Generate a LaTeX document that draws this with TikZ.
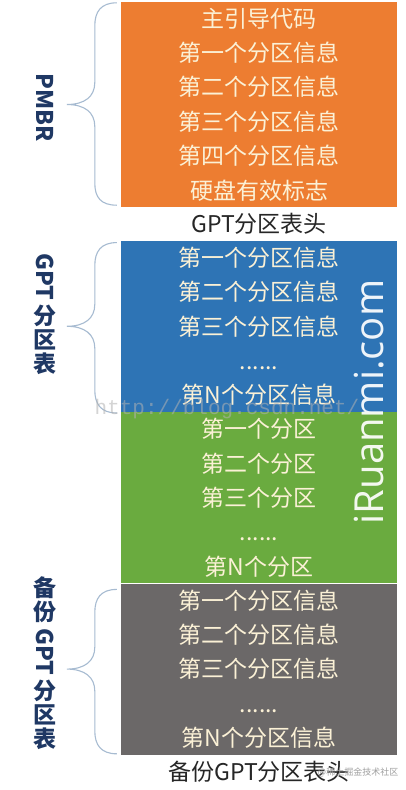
\documentclass[tikz,border=0pt]{standalone}
\usepackage{fontspec}
\setmainfont{Noto Sans CJK SC}
\newfontfamily\markfont{Open Sans}
\newfontfamily\urlfont{Liberation Mono}
\usepackage{xcolor}
\usepackage{tikz}
\usetikzlibrary{positioning}

\definecolor{mbrorange}{HTML}{ED7D31}
\definecolor{gptblue}{HTML}{2E74B5}
\definecolor{partgreen}{HTML}{6AAB3F}
\definecolor{bakgray}{HTML}{6B6868}
\definecolor{labelnavy}{HTML}{1F3864}
\definecolor{bracegray}{HTML}{A7BBD1}
\definecolor{textcream}{HTML}{FBF1D6}

\begin{document}
\begin{tikzpicture}[
    x=1pt, y=1pt,
    every node/.style={font=\fontsize{23}{34.4}\selectfont},
    block/.style={
        rectangle,
        minimum width=276pt,
        text width=270pt,
        align=center,
        inner sep=0pt,
        text=textcream
    },
    caption/.style={
        rectangle,
        minimum height=33pt,
        inner sep=0pt,
        text=black!85
    },
    sidelabel/.style={
        align=center,
        inner sep=0pt,
        text=labelnavy,
        font=\fontsize{23}{24}\selectfont\bfseries
    },
    curly/.style={draw=bracegray, line width=1.1pt},
    wmark/.style={inner sep=0pt}
]

\fill[white] (0,0) rectangle (406,-790);
\useasboundingbox (0,0) rectangle (406,-790);

\node[block, fill=mbrorange, minimum height=205pt] (pmbr) at (259,-104.5)
{主引导代码\\第一个分区信息\\第二个分区信息\\第三个分区信息\\第四个分区信息\\硬盘有效标志};

\node[caption, below=0pt of pmbr] (hdr) {GPT分区表头};

\node[block, fill=gptblue, minimum height=171pt, below=0pt of hdr] (gpt)
{第一个分区信息\\第二个分区信息\\第三个分区信息\\......\\第N个分区信息};

\node[block, fill=partgreen, minimum height=171pt, below=0pt of gpt] (parts)
{第一个分区\\第二个分区\\第三个分区\\......\\第N个分区};

\node[block, fill=bakgray, minimum height=171pt, below=0pt of parts] (bak)
{第一个分区信息\\第二个分区信息\\第三个分区信息\\......\\第N个分区信息};

\node[caption, below=0pt of bak] (bakhdr) {备份GPT分区表头};

% braces on the left
\draw[curly] ([xshift=-4pt,yshift=-1pt]pmbr.north west)
    .. controls +(-16,0) and +(0,14) .. ([xshift=-26pt,yshift=-24pt]pmbr.north west)
    -- ([xshift=-26pt,yshift=22pt]pmbr.west)
    .. controls +(0,-14) and +(18,0) .. ([xshift=-54pt]pmbr.west)
    .. controls +(18,0) and +(0,14) .. ([xshift=-26pt,yshift=-22pt]pmbr.west)
    -- ([xshift=-26pt,yshift=24pt]pmbr.south west)
    .. controls +(0,-14) and +(-16,0) .. ([xshift=-4pt,yshift=2pt]pmbr.south west);

\draw[curly] ([xshift=-4pt,yshift=-2pt]gpt.north west)
    .. controls +(-16,0) and +(0,14) .. ([xshift=-26pt,yshift=-25pt]gpt.north west)
    -- ([xshift=-26pt,yshift=22pt]gpt.west)
    .. controls +(0,-14) and +(18,0) .. ([xshift=-54pt]gpt.west)
    .. controls +(18,0) and +(0,14) .. ([xshift=-26pt,yshift=-22pt]gpt.west)
    -- ([xshift=-26pt,yshift=22pt]gpt.south west)
    .. controls +(0,-14) and +(-16,0) .. ([xshift=-4pt,yshift=-1pt]gpt.south west);

\draw[curly] ([xshift=-4pt,yshift=-6pt]bak.north west)
    .. controls +(-16,0) and +(0,14) .. ([xshift=-26pt,yshift=-29pt]bak.north west)
    -- ([xshift=-26pt,yshift=22pt]bak.west)
    .. controls +(0,-14) and +(18,0) .. ([xshift=-54pt]bak.west)
    .. controls +(18,0) and +(0,14) .. ([xshift=-26pt,yshift=-22pt]bak.west)
    -- ([xshift=-26pt,yshift=24pt]bak.south west)
    .. controls +(0,-14) and +(-16,0) .. ([xshift=-4pt,yshift=1pt]bak.south west);

% vertical labels
\node[sidelabel] (pmbrlbl) at ([xshift=-76pt,yshift=-3pt]pmbr.west)
{\rotatebox{-90}{PMBR}};

\node[sidelabel] (gptlbl) at ([xshift=-76pt,yshift=12pt]gpt.west)
{\rotatebox{-90}{GPT}\\[4pt]分\\区\\表};

\node[sidelabel] (baklbl) at ([xshift=-76pt,yshift=6pt]bak.west)
{备\\份\\[-16pt]\rotatebox{-90}{GPT}\\[4pt]分\\区\\表};

% watermarks
\node[wmark, rotate=90, text=white, opacity=0.92,
      font=\markfont\fontsize{40}{40}\selectfont] (ruanmi)
      at ([xshift=-28pt,yshift=10pt]gpt.south east) {iRuanmi.com};

\node[wmark, text=gray!60, opacity=0.55,
      font=\urlfont\fontsize{21}{21}\selectfont] (csdn)
      at ([xshift=-32pt,yshift=3pt]gpt.south) {http://blog.csdn.net/};

\node[wmark, text=gray!75, font=\fontsize{9}{9}\selectfont] (juejin)
      at ([xshift=99pt,yshift=-1pt]bakhdr.center) {@稀土掘金技术社区};

\end{tikzpicture}
\end{document}
